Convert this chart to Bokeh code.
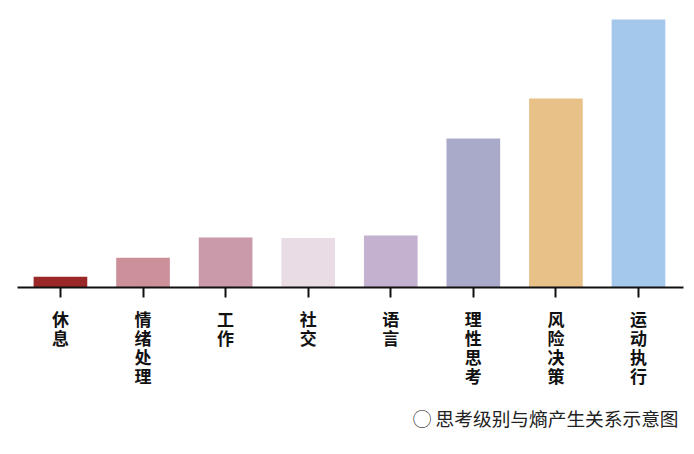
from bokeh.plotting import figure
from bokeh.models import Range1d, FixedTicker, Title, ColumnDataSource
from bokeh.embed import file_html
from bokeh.resources import INLINE

categories = ["休息", "情绪处理", "工作", "社交", "语言", "理性思考", "风险决策", "运动执行"]
values = [4.0, 11.1, 18.7, 18.5, 19.4, 55.6, 70.5, 100.0]
colors = ["#9B2828", "#CB9099", "#CA99AA", "#E9DCE5", "#C4B1CF", "#A9A9C9", "#E8C188", "#A3C8EB"]
caption = "◯ 思考级别与熵产生关系示意图"

xs = list(range(len(categories)))
src = ColumnDataSource(dict(x=xs, top=values, color=colors))

p = figure(width=686, height=445, output_backend="svg", toolbar_location=None,
           x_range=Range1d(-0.52, 7.545), y_range=Range1d(0, 104.5),
           min_border_left=17, min_border_right=3, min_border_top=7,
           min_border_bottom=158, y_axis_location=None)

p.vbar(x="x", top="top", width=0.65, fill_color="color", line_color=None, source=src)

p.xgrid.visible = False
p.ygrid.visible = False
p.outline_line_color = None
p.background_fill_color = "white"
p.border_fill_color = "white"

ax = p.xaxis[0]
ax.ticker = FixedTicker(ticks=xs)
ax.major_label_overrides = {i: "\n".join(c) for i, c in enumerate(categories)}
ax.axis_line_width = 2
ax.axis_line_color = "#111111"
ax.major_tick_out = 10
ax.major_tick_in = 0
ax.major_tick_line_width = 2
ax.major_tick_line_color = "#111111"
ax.minor_tick_out = 0
ax.minor_tick_in = 0
ax.major_label_standoff = 8
ax.major_label_text_font = "Noto Sans CJK SC"
ax.major_label_text_font_size = "17px"
ax.major_label_text_font_style = "bold"
ax.major_label_text_color = "#111111"
ax.major_label_text_line_height = 0.76

cap = Title(text=caption, align="right", offset=5, standoff=23,
            text_font="Noto Sans CJK SC", text_font_size="18.7px",
            text_font_style="normal", text_color="#222222")
p.add_layout(cap, "below")

open("out.html", "w").write(file_html(p, INLINE))
